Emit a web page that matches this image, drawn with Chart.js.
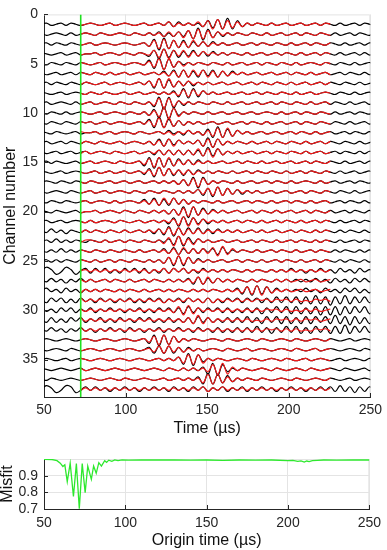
<!DOCTYPE html>
<html>
<head>
<meta charset="utf-8">
<script src="https://cdn.jsdelivr.net/npm/chart.js@4.4.1/dist/chart.umd.min.js"></script>
<style>
  html, body { margin: 0; padding: 0; background: #fff; }
  #wrap { position: relative; width: 387px; height: 550px; overflow: hidden; }
  #traceBox { position: absolute; left: 0; top: 0; width: 387px; height: 440px; }
  #misfitBox { position: absolute; left: 0; top: 440px; width: 387px; height: 110px; }
</style>
</head>
<body>
<div id="wrap">
  <div id="traceBox"><canvas id="traceChart"></canvas></div>
  <div id="misfitBox"><canvas id="misfitChart"></canvas></div>
</div>
<script>
// ---- data ----
const channelTicks = [0, 5, 10, 15, 20, 25, 30, 35];
const timeTicks = [50, 100, 150, 200, 250];
const misfitTicks = [0.7, 0.8, 0.9];

const originTime = 72.5;      // green marker (µs)
const sampleStep = 3;         // µs between samples
const blackStart = 48.5;      // recorded traces: 48.5..252.5 µs
const redStart = 72.5;        // synthetic traces: 72.5..225.5 µs

// recorded (black) trace amplitudes, one row per channel 1..38
const blackTraces = [
  [0,1,-1,0,1,-1,1,0,-1,0, 1,0,-1,0,1,-1,0,1,0,-1, 0,1,-1,0,1,-1,2,-2,2,-1, 1,-1,1,-2,3,-3,4,-4,5,-4, 3,-2,1,-1,1,0,-1,1,-1,0, 1,-1,0,1,-1,0,1,-1,1,0, -1,1,-1,0,1,-1,1,0,-1],
  [1,-1,0,1,0,-1,1,-1,0,1, 0,-1,1,0,-1,0,1,0,-1,1, 0,-1,1,-1,2,-2,1,-2,2,-2, 3,-4,5,-5,4,-3,2,-2,1,-1, 1,0,-1,1,0,-1,1,-1,0,1, -1,0,1,-1,1,0,-1,1,0,-1, 1,-1,0,1,-1,1,0,-1,1],
  [0,1,-1,1,0,-1,1,0,-1,0, 1,-1,0,1,0,-1,0,1,0,-1, 0,1,-2,4,-5,5,-4,3,-3,3, -3,2,-2,2,-2,2,-1,1,-1,0, 1,-1,0,1,-1,1,0,-1,1,0, -1,1,-1,0,1,-1,1,0,-1,1, 0,-1,1,-1,0,1,-1,1,0],
  [1,0,-1,0,1,-1,0,1,-1,0, 0,1,-1,0,1,0,-1,1,0,-1, 1,0,-2,3,-4,4,-3,3,-3,2, -2,3,-2,2,-2,2,-1,1,-1,1, 0,-1,1,-1,0,1,-1,0,1,-1, 1,0,-1,1,-1,0,1,-1,1,0, -1,1,-1,0,1,-1,1,-1,0],
  [0,-1,1,0,-1,1,0,-1,1,0, -1,0,1,-1,0,1,0,-1,0,1, 0,-1,3,-4,5,-5,4,-3,2,-1, 1,-1,1,0,-1,1,0,-1,1,-1, 0,1,-1,0,1,-1,1,0,-1,1, 0,-1,1,-1,0,1,0,-1,1,0, -1,1,0,-1,1,-1,0,1,-1],
  [1,-1,0,1,-1,0,1,-1,1,0, -1,1,0,-1,1,-1,0,1,-1,0, 1,-1,0,1,-1,2,-2,3,-3,3, -3,2,-3,3,-2,3,-3,2,-2,2, -1,1,-1,0,1,-1,0,1,-1,0, 1,-1,1,0,-1,1,-1,0,1,-1, 0,1,-1,1,0,-1,1,-1,0],
  [0,1,-1,1,0,-1,1,0,-1,1, 0,-1,0,1,-1,0,1,0,-1,0, 1,-1,2,-4,4,-4,3,-3,2,-2, 2,-2,1,-1,1,-1,0,1,-1,0, 1,-1,0,1,-1,1,0,-1,1,0, -1,1,-1,0,1,-1,0,1,-1,1, 0,-1,1,0,-1,1,-1,0,1],
  [1,0,-1,0,1,-1,0,1,0,-1, 1,0,-1,1,0,-1,0,1,-1,0, 1,-1,0,1,-1,1,-1,2,-3,4, -4,4,-3,2,-1,1,-1,0,1,-1, 0,1,-1,0,1,-1,1,0,-1,1, 0,-1,1,-1,0,1,-1,0,1,0, -1,1,0,-1,1,-1,0,1,-1],
  [0,1,-1,0,1,0,-1,1,-1,0, 1,-1,0,1,0,-1,1,0,-1,1, 0,-1,1,-3,5,-5,5,-4,2,-2, 1,-1,1,0,-1,1,0,-1,1,-1, 0,1,-1,0,1,-1,0,1,-1,1, 0,-1,1,0,-1,1,-1,0,1,-1, 1,0,-1,1,-1,0,1,-1,0],
  [1,-1,1,0,-1,1,-1,0,1,0, -1,0,1,-1,0,1,0,-1,1,0, -1,1,-2,3,-4,5,-5,4,-2,1, -1,1,0,-1,1,-1,0,1,-1,0, 1,-1,0,1,-1,0,1,0,-1,1, -1,0,1,-1,1,0,-1,1,0,-1, 1,-1,0,1,-1,1,0,-1,1],
  [0,-1,1,0,-1,1,0,-1,1,0, 1,-1,0,1,-1,0,1,0,-1,0, 1,-1,3,-4,5,-4,3,-3,2,-2, 1,-1,1,-1,0,1,-1,0,1,-1, 0,1,-1,1,0,-1,1,-1,0,1, -1,0,1,-1,1,0,-1,1,0,-1, 1,0,-1,1,-1,0,1,-1,0],
  [1,0,-1,1,0,-1,0,1,-1,0, 0,1,-1,0,1,-1,0,1,0,-1, 1,0,-1,0,1,-1,2,-1,1,-2, 2,-1,1,-2,3,-4,5,-4,3,-3, 2,-1,1,-1,0,1,-1,0,1,-1, 0,1,-1,1,0,-1,1,-1,0,1, -1,0,1,-1,1,0,-1,1,-1],
  [0,1,-1,0,1,-1,1,0,-1,1, 0,-1,1,0,-1,0,1,-1,0,1, 0,-1,1,-2,3,-3,3,-2,2,-1, 1,-1,2,-3,4,-4,3,-2,1,-1, 1,0,-1,1,-1,0,1,-1,1,0, -1,1,0,-1,1,-1,0,1,-1,1, 0,-1,1,0,-1,1,-1,0,1],
  [1,-1,0,1,-1,0,1,-1,0,1, -1,0,1,0,-1,1,0,-1,0,1, -1,0,1,-2,2,-2,2,-2,2,-2, 2,-2,2,-3,4,-3,3,-2,1,-1, 1,-1,0,1,-1,0,1,-1,1,0, -1,1,0,-1,1,-1,0,1,-1,0, 1,-1,1,0,-1,1,-1,1,0],
  [0,1,-1,1,0,-1,0,1,-1,0, 1,-1,0,1,0,-1,1,0,-1,0, 1,-3,4,-5,4,-4,3,-3,3,-2, 2,-2,2,-1,1,-1,0,1,-1,0, 1,-1,1,0,-1,1,-1,0,1,-1, 0,1,-1,0,1,-1,1,0,-1,1, 0,-1,1,-1,0,1,-1,1,0],
  [1,0,-1,0,1,-1,0,1,0,-1, 0,1,-1,0,1,-1,0,1,-1,0, 1,-2,3,-4,4,-3,3,-3,2,-3, 2,-2,2,-1,1,-1,1,0,-1,1, -1,0,1,-1,1,0,-1,1,0,-1, 1,-1,0,1,-1,1,0,-1,1,0, -1,1,-1,0,1,-1,0,1,-1],
  [0,1,0,-1,1,0,-1,1,0,-1, 1,0,-1,0,1,-1,0,1,-1,0, 1,-1,0,1,-1,1,-1,1,-2,2, -3,4,-5,4,-2,1,-1,1,0,-1, 1,-1,0,1,-1,0,1,-1,1,0, -1,1,-1,0,1,0,-1,1,-1,0, 1,-1,0,1,-1,1,0,-1,1],
  [1,-1,0,1,0,-1,1,0,-1,0, 1,-1,0,1,-1,0,1,0,-1,1, 0,-1,1,0,-1,1,0,-1,1,-1, 1,-1,2,-3,3,-4,4,-3,3,-2, 2,-2,1,-1,1,-1,0,1,-1,0, 1,-1,0,1,-1,1,0,-1,1,0, -1,1,0,-1,1,-1,0,1,-1],
  [0,-1,1,0,-1,1,0,-1,0,1, -1,0,1,0,-1,1,-1,0,1,0, -1,2,-2,3,-3,2,-3,3,-2,2, -2,1,-1,1,0,-1,1,-1,0,1, -1,0,1,-1,1,0,-1,1,-1,0, 1,-1,1,0,-1,1,-1,0,1,-1, 0,1,-1,1,0,-1,1,-1,0],
  [1,0,-1,1,0,-1,0,1,-1,0, 0,1,-1,0,1,0,-1,1,0,-1, 1,0,-1,1,-1,1,-2,2,-3,4, -5,4,-3,3,-2,2,-1,1,-1,0, 1,-1,0,1,-1,1,0,-1,1,-1, 0,1,-1,0,1,-1,1,0,-1,1, -1,0,1,-1,1,0,-1,1,-1],
  [0,1,-1,0,1,-1,0,1,0,-1, 1,-1,0,1,0,-1,1,0,-1,0, 1,-1,0,1,-1,1,-2,3,-4,4, -3,3,-2,2,-2,1,-1,1,-1,0, 1,-1,1,0,-1,1,-1,0,1,-1, 1,0,-1,1,-1,0,1,-1,1,0, -1,1,-1,0,1,-1,1,0,-1],
  [1,-1,2,-1,1,-2,1,0,-1,1, -1,1,0,-1,1,0,-1,1,-1,0, 1,-1,1,-2,2,-3,4,-4,3,-3, 3,-2,3,-2,2,-2,2,-1,1,-1, 1,-1,0,1,-1,1,-1,0,1,-1, 0,1,-1,1,0,-1,1,-1,1,0, -1,1,-1,1,0,-1,1,-1,1],
  [-1,1,-1,2,-1,1,-1,1,0,-1, 1,0,-1,1,-1,0,1,-1,1,0, -1,1,0,-1,1,-1,2,-3,4,-4, 3,-2,2,-1,1,-1,0,1,-1,0, 1,-1,0,1,-1,1,0,-1,1,-1, 0,1,-1,1,0,-1,1,-1,1,0, -1,1,-1,0,1,-1,1,0,-1],
  [1,-1,1,-1,2,-1,1,-1,1,0, -1,1,0,-1,1,0,-1,1,0,-1, 1,-1,0,1,-1,2,-2,3,-3,2, -2,2,-2,2,-1,2,-3,3,-2,1, -1,1,0,-1,1,-1,0,1,-1,1, 0,-1,1,-1,0,1,-1,1,0,-1, 1,-1,1,0,-1,1,-1,1,-1],
  [0,1,-1,1,-1,1,0,-1,1,0, -1,1,-1,0,1,-1,1,0,-1,1, 0,-1,1,-1,1,-2,3,-4,4,-4, 3,-2,2,-1,1,-1,0,1,-1,0, 1,-1,1,0,-1,1,-1,0,1,-1, 1,0,-1,1,-1,0,1,-1,1,0, -1,1,-1,1,0,-1,1,-1,1],
  [0,3,1,-3,-1,3,1,-3,0,2, -2,2,-1,2,-2,1,-2,2,-1,2, -2,2,-2,1,-2,2,-2,2,-1,2, -2,1,-2,2,-1,1,-1,1,-1,1, 0,-1,1,-1,1,0,-1,1,-1,1, -1,2,-1,1,-2,1,-1,2,-1,1, -2,2,-1,1,-2,2,-1,1,-1],
  [1,-1,2,-1,1,-2,1,-1,2,-1, 1,-1,0,1,-1,1,0,-1,1,-1, 0,1,-1,1,0,-1,1,-1,1,-1, 2,-3,3,-3,2,-2,2,-1,1,-1, 1,0,-1,1,-1,1,0,-1,1,-1, 1,-1,1,-1,1,-1,2,-1,1,-2, 2,-1,1,-2,2,-1,2,-1,1],
  [0,2,-1,1,-2,2,-1,1,-2,1, -1,1,-1,1,0,-1,1,-1,1,0, -1,1,-1,0,1,-1,1,-1,1,0, -1,1,-1,1,-1,1,0,-1,1,-1, 2,-3,3,-4,4,-3,3,-2,2,-1, 1,-1,1,-1,2,-1,1,-2,2,-1, 1,-2,2,-1,2,-2,1,-2,1],
  [1,-2,2,-1,2,-2,1,-2,2,-1, 1,-2,2,-1,1,-2,1,-1,2,-2, 1,-2,2,-1,2,-2,1,-1,2,-2, 2,-1,1,-2,2,-2,1,-2,2,-1, 2,-2,2,-1,2,-2,2,-2,3,-2, 3,-2,3,-3,3,-3,4,-3,3,-4, 3,-3,4,-3,3,-2,3,-2,2],
  [2,-1,1,-2,2,-1,2,-2,1,-1, 2,-2,1,-1,2,-1,1,-2,1,-1, 2,-2,1,-2,2,-1,2,-2,2,-3, 3,-2,2,-2,2,-1,2,-2,2,-2, 1,-2,2,-2,2,-3,2,-2,3,-2, 3,-3,3,-3,2,-3,3,-4,3,-4, 3,-4,3,-3,3,-2,3,-3,2],
  [1,-2,2,-2,1,-2,2,-1,2,-2, 1,-1,2,-2,1,-2,2,-1,1,-2, 2,-1,2,-2,1,-2,2,-2,1,-2, 2,-3,3,-2,2,-2,1,-2,2,-2, 2,-2,3,-2,2,-3,3,-2,3,-3, 3,-3,2,-3,3,-3,3,-2,3,-3, 4,-3,3,-4,3,-3,2,-3,2],
  [1,-1,2,-1,1,-2,1,-1,2,-1, 1,-2,1,-1,2,-1,1,-2,2,-1, 1,-2,1,-1,2,-2,1,-1,2,-1, 1,-2,2,-1,1,-2,2,-2,1,-2, 2,-2,2,-2,3,-2,2,-3,2,-2, 3,-2,3,-3,2,-3,3,-2,3,-3, 3,-3,4,-3,3,-2,3,-2,1],
  [0,1,0,-1,0,1,0,-1,0,1, 0,-1,0,1,0,-1,0,1,0,-1, 0,1,-3,4,-5,4,-4,3,-2,1, -1,1,0,-1,0,1,0,-1,1,0, -1,0,1,0,-1,1,0,-1,0,1, 0,-1,1,0,-1,0,1,0,-1,1, 0,-1,0,1,-1,0,1,0,-1],
  [0,-1,0,1,0,-1,1,0,-1,0, 1,0,-1,0,1,0,-1,0,1,0, -1,0,2,-3,3,-3,3,-3,2,-2, 2,-1,1,-1,0,1,0,-1,1,0, -1,0,1,-1,0,1,0,-1,0,1, 0,-1,1,0,-1,0,1,-1,0,1, 0,-1,0,1,0,-1,1,0,-1],
  [0,1,0,-1,0,1,-1,0,1,0, -1,0,1,0,-1,0,1,0,-1,0, 1,0,-1,0,1,-1,1,-1,2,-4, 5,-5,4,-2,1,-1,1,0,-1,0, 1,0,-1,1,0,-1,0,1,0,-1, 1,0,-1,0,1,-1,0,1,0,-1, 0,1,-1,0,1,0,-1,1,0],
  [1,0,-1,0,1,0,-1,0,1,-1, 0,1,0,-1,0,1,0,-1,0,1, 0,-1,0,1,0,-1,1,0,-1,1, -1,1,-1,2,-4,5,-5,4,-2,1, -1,1,0,-1,0,1,0,-1,1,0, -1,0,1,0,-1,1,0,-1,0,1, 0,-1,1,0,-1,0,1,-1,0],
  [0,-1,1,0,-1,0,1,0,-1,0, 1,0,-1,0,1,0,-1,1,0,-1, 0,1,0,-1,0,1,-1,0,1,-1, 1,-1,2,-4,5,-4,4,-3,3,-2, 1,-1,1,0,-1,1,0,-1,0,1, 0,-1,1,0,-1,0,1,0,-1,1, 0,-1,0,1,-1,0,1,0,-1],
  [0,3,1,-3,-1,3,2,-3,-1,2, -1,2,-1,1,-2,1,-1,2,-1,1, -2,1,-1,2,-1,1,-2,2,-1,1, -2,2,-1,2,-2,1,-1,2,-2,1, -1,2,-2,1,-1,2,-1,1,-2,1, -1,2,-1,1,-2,1,-1,2,-1,2, -2,3,-2,2,-3,2,-2,2,-1]
];

// synthetic (red) trace amplitudes, one row per channel 1..38
const redTraces = [
  [-1,0, 1,0,-1,0,1,-1,0,1,0,-1, 0,1,-1,0,1,-1,2,-2,1,-1, 1,-1,2,-2,3,-4,4,-4,3,-3, 2,-2,1,-1,1,0,-1,1,-1,0, 1,-1,0,1,-1,0,1,-1,1,0],
  [0,1, 0,-1,1,0,-1,0,1,0,-1,1, 0,-1,1,-1,1,-2,2,-2,2,-3, 3,-4,4,-4,3,-3,2,-1,1,-1, 1,0,-1,1,0,-1,1,-1,0,1, -1,0,1,-1,1,0,-1,1,0,-1],
  [-1,0, 1,-1,0,1,0,-1,0,1,0,-1, 0,1,-2,3,-4,4,-4,3,-3,2, -3,3,-2,2,-2,1,-1,1,-1,0, 1,-1,0,1,-1,1,0,-1,1,0, -1,1,-1,0,1,-1,1,0,-1,1],
  [-1,0, 0,1,-1,0,1,0,-1,1,0,-1, 1,0,-1,3,-3,4,-4,3,-2,3, -3,2,-2,2,-1,1,-1,1,-1,1, 0,-1,1,-1,0,1,-1,0,1,-1, 1,0,-1,1,-1,0,1,-1,1,0],
  [1,0, -1,0,1,-1,0,1,0,-1,0,1, 0,-1,2,-3,4,-5,4,-3,2,-2, 1,-1,1,0,-1,1,0,-1,1,-1, 0,1,-1,0,1,-1,1,0,-1,1, 0,-1,1,-1,0,1,0,-1,1,0],
  [1,0, -1,1,0,-1,1,-1,0,1,-1,0, 1,-1,0,1,-1,1,-2,2,-3,3, -3,3,-2,3,-3,2,-3,2,-2,1, -1,1,-1,0,1,-1,0,1,-1,0, 1,-1,1,0,-1,1,-1,0,1,-1],
  [-1,1, 0,-1,0,1,-1,0,1,0,-1,0, 1,-1,2,-3,4,-4,4,-3,2,-2, 2,-1,1,-1,1,-1,0,1,-1,0, 1,-1,0,1,-1,1,0,-1,1,0, -1,1,-1,0,1,-1,0,1,-1,1],
  [0,-1, 1,0,-1,1,0,-1,0,1,-1,0, 1,-1,0,1,-1,1,-1,1,-2,3, -3,3,-2,2,-1,1,-1,0,1,-1, 0,1,-1,0,1,-1,1,0,-1,1, 0,-1,1,-1,0,1,-1,0,1,0],
  [-1,0, 1,-1,0,1,0,-1,1,0,-1,1, 0,-1,1,-2,4,-4,4,-3,2,-1, 1,-1,1,0,-1,1,0,-1,1,-1, 0,1,-1,0,1,-1,0,1,-1,1, 0,-1,1,0,-1,1,-1,0,1,-1],
  [1,0, -1,0,1,-1,0,1,0,-1,1,0, -1,1,-2,2,-3,4,-4,4,-3,1, -1,1,0,-1,1,-1,0,1,-1,0, 1,-1,0,1,-1,0,1,0,-1,1, -1,0,1,-1,1,0,-1,1,0,-1],
  [1,0, 1,-1,0,1,-1,0,1,0,-1,0, 1,-1,2,-3,4,-4,4,-3,2,-2, 1,-1,1,-1,0,1,-1,0,1,-1, 0,1,-1,1,0,-1,1,-1,0,1, -1,0,1,-1,1,0,-1,1,0,-1],
  [1,0, 0,1,-1,0,1,-1,0,1,0,-1, 1,0,-1,0,1,-1,1,-2,1,-1, 2,-1,1,-2,2,-3,4,-4,4,-3, 2,-1,1,-1,0,1,-1,0,1,-1, 0,1,-1,1,0,-1,1,-1,0,1],
  [-1,1, 0,-1,1,0,-1,0,1,-1,0,1, 0,-1,1,-2,2,-3,3,-3,2,-1, 1,-1,2,-3,3,-4,3,-2,1,-1, 1,0,-1,1,-1,0,1,-1,1,0, -1,1,0,-1,1,-1,0,1,-1,1],
  [-1,1, -1,0,1,0,-1,1,0,-1,0,1, -1,0,1,-1,2,-2,2,-2,2,-2, 2,-2,3,-3,3,-4,3,-2,1,-1, 1,-1,0,1,-1,0,1,-1,1,0, -1,1,0,-1,1,-1,0,1,-1,0],
  [-1,0, 1,-1,0,1,0,-1,1,0,-1,0, 1,-2,3,-4,4,-4,4,-3,2,-2, 2,-2,1,-1,1,-1,0,1,-1,0, 1,-1,1,0,-1,1,-1,0,1,-1, 0,1,-1,0,1,-1,1,0,-1,1],
  [0,-1, 0,1,-1,0,1,-1,0,1,-1,0, 1,-1,2,-3,4,-3,3,-2,2,-2, 2,-2,1,-1,1,-1,1,0,-1,1, -1,0,1,-1,1,0,-1,1,0,-1, 1,-1,0,1,-1,1,0,-1,1,0],
  [0,-1, 1,0,-1,0,1,-1,0,1,-1,0, 1,-1,0,1,-1,1,-1,1,-2,2, -3,3,-4,3,-2,1,-1,1,0,-1, 1,-1,0,1,-1,0,1,-1,1,0, -1,1,-1,0,1,0,-1,1,-1,0],
  [-1,0, 1,-1,0,1,-1,0,1,0,-1,1, 0,-1,1,0,-1,1,0,-1,1,-1, 1,-1,2,-2,3,-3,4,-3,3,-2, 2,-1,1,-1,1,-1,0,1,-1,0, 1,-1,0,1,-1,1,0,-1,1,0],
  [0,1, -1,0,1,0,-1,1,-1,0,1,0, -1,1,-2,2,-3,3,-2,3,-2,2, -2,1,-1,1,0,-1,1,-1,0,1, -1,0,1,-1,1,0,-1,1,-1,0, 1,-1,1,0,-1,1,-1,0,1,-1],
  [-1,0, 0,1,-1,0,1,0,-1,1,0,-1, 1,0,-1,1,-1,1,-2,2,-3,3, -4,4,-3,2,-2,1,-1,1,-1,0, 1,-1,0,1,-1,1,0,-1,1,-1, 0,1,-1,0,1,-1,1,0,-1,1],
  [0,-1, 1,-1,0,1,0,-1,1,0,-1,0, 1,-1,0,1,-1,1,-1,2,-3,4, -4,3,-3,2,-1,1,-1,1,-1,0, 1,-1,1,0,-1,1,-1,0,1,-1, 1,0,-1,1,-1,0,1,-1,1,0],
  [-1,1, -1,1,0,-1,1,0,-1,1,-1,0, 1,-1,1,-1,2,-2,3,-3,3,-3, 2,-2,2,-2,1,-1,1,-1,1,-1, 1,-1,0,1,-1,1,-1,0,1,-1, 0,1,-1,1,0,-1,1,-1,1,0],
  [-1,1, 1,0,-1,1,-1,0,1,-1,1,0, -1,1,0,-1,1,-2,3,-4,4,-3, 2,-3,2,-1,1,-1,0,1,-1,0, 1,-1,0,1,-1,1,0,-1,1,-1, 0,1,-1,1,0,-1,1,-1,1,0],
  [1,0, -1,1,0,-1,1,0,-1,1,0,-1, 1,-1,0,1,-1,1,-2,2,-3,3, -2,2,-2,2,-2,3,-4,4,-3,2, -1,1,0,-1,1,-1,0,1,-1,1, 0,-1,1,-1,0,1,-1,1,0,-1],
  [1,0, -1,1,-1,0,1,-1,1,0,-1,1, 0,-1,1,-1,1,-2,3,-3,4,-3, 3,-2,1,-1,1,-1,0,1,-1,0, 1,-1,1,0,-1,1,-1,0,1,-1, 1,0,-1,1,-1,0,1,-1,1,0],
  [0,1, -1,1,-1,1,-1,1,-1,1,-1,1, -1,1,-2,1,-1,2,-2,2,-1,2, -2,1,-1,1,-1,1,-1,1,-1,1, 0,-1,1,-1,1,0,-1,1,-1,1, -1,1,-1,1,-1,1,-1,1,-1,1],
  [1,-1, 1,-1,0,1,-1,1,0,-1,1,-1, 0,1,-1,1,0,-1,1,-1,1,-1, 1,-2,3,-3,3,-2,2,-1,1,-1, 1,0,-1,1,-1,1,0,-1,1,-1, 1,-1,0,1,-1,0,1,-1,0,1],
  [-2,1, -1,1,-1,1,0,-1,1,-1,1,0, -1,1,-1,0,1,-1,1,-1,1,0, -1,1,-1,1,-1,1,0,-1,1,-1, 1,-2,3,-3,4,-4,3,-2,1,-1, 1,-1,0,1,-1,0,1,-1,0,1],
  [2,-1, 1,-1,1,-1,1,-1,1,-1,1,-1, 1,-1,1,-1,1,-2,1,-1,1,-1, 2,-1,1,-2,2,-2,1,-1,1,-1, 1,-1,1,-1,1,0,1,-1,1,0, 1,-1,1,-1,0,-1,1,0,1,-1],
  [1,-1, 1,-1,1,-1,1,-1,1,-1,1,-1, 1,-1,1,-1,1,-1,1,-2,3,-4, 4,-3,2,-1,1,-1,1,-1,1,-1, 1,-1,1,-1,1,-1,1,0,1,-1, 1,-1,0,-1,1,-1,1,-1,0,1],
  [2,-1, 1,-1,1,-1,1,-1,1,-1,1,-1, 1,-1,1,-1,1,-1,1,-1,1,-2, 2,-3,4,-3,2,-2,1,-1,1,-1, 1,-1,1,-1,0,-1,1,-1,1,0, 1,-1,1,-1,1,0,1,-1,0,1],
  [2,-1, 1,-1,1,-1,1,-1,1,-1,1,-1, 1,-1,1,-1,1,-1,1,-1,1,-1, 1,-1,1,-1,1,-1,1,-1,1,-1, 1,-1,1,-1,1,-1,1,0,1,-1, 1,-1,1,-1,0,-1,1,0,1,-1],
  [0,1, 0,-1,0,1,0,-1,0,1,0,-1, 0,1,-2,3,-4,4,-4,3,-2,1, -1,1,0,-1,0,1,0,-1,1,0, -1,0,1,0,-1,1,0,-1,0,1, 0,-1,1,0,-1,0,1,0,-1,1],
  [-1,0, 1,0,-1,0,1,0,-1,0,1,0, -1,0,1,-2,3,-3,3,-2,2,-2, 1,-1,1,-1,0,1,0,-1,1,0, -1,0,1,-1,0,1,0,-1,0,1, 0,-1,1,0,-1,0,1,-1,0,1],
  [1,0, -1,0,1,0,-1,0,1,0,-1,0, 1,0,-1,0,1,-1,1,-1,2,-3, 4,-4,4,-3,1,-1,1,0,-1,0, 1,0,-1,1,0,-1,0,1,0,-1, 1,0,-1,0,1,-1,0,1,0,-1],
  [1,-1, 0,1,0,-1,0,1,0,-1,0,1, 0,-1,0,1,0,-1,1,0,-1,1, -1,1,-1,1,-2,4,-4,5,-4,2, -1,1,0,-1,0,1,0,-1,1,0, -1,0,1,0,-1,1,0,-1,0,1],
  [-1,0, 1,0,-1,0,1,0,-1,1,0,-1, 0,1,0,-1,0,1,-1,0,1,-1, 1,-1,1,-3,4,-4,4,-3,2,-2, 1,-1,1,0,-1,1,0,-1,0,1, 0,-1,1,0,-1,0,1,0,-1,1],
  [-1,1, -1,1,-1,1,-1,1,-1,1,-1,1, -1,1,-1,1,-1,1,-1,1,-1,1, -1,1,-1,2,-2,1,-1,2,-1,1, -1,1,-1,1,-1,1,-1,1,-1,1, -1,1,-1,1,-1,1,-1,1,-1,1]
];

// misfit versus trial origin time
const misfitTimes = [50, 55, 58, 60, 61.6, 62.8, 64.3, 66.1, 68.1, 69.9, 71.7, 73.5, 75.3, 76.9, 79.1, 80.5, 82.1, 83.7, 85.3, 87.3, 88.5, 89.8, 91.7, 93.5, 95.5, 98, 102, 110, 120, 130, 140, 150, 160, 170, 180, 190, 200, 203, 206, 208, 210, 211.5, 213, 215, 218, 222, 230, 240, 250];
const misfitValues = [0.998, 0.997, 0.99, 0.975, 0.955, 0.965, 0.864, 0.975, 0.775, 0.972, 0.702, 0.972, 0.798, 0.958, 0.878, 0.958, 0.914, 0.978, 0.957, 0.99, 0.98, 0.993, 0.986, 0.995, 0.99, 0.995, 0.993, 0.995, 0.994, 0.995, 0.993, 0.994, 0.992, 0.994, 0.993, 0.994, 0.99, 0.992, 0.986, 0.989, 0.982, 0.988, 0.984, 0.99, 0.992, 0.994, 0.993, 0.994, 0.994];

// ---- styling ----
const FONT = '"Liberation Sans", Arial, Helvetica, sans-serif';
const AXIS = '#262626';
const GRID = '#e4e4e4';
const ampScale = 0.12;        // channel units per amplitude step
const channelMax = 38.8;

Chart.defaults.font.family = FONT;
Chart.defaults.color = AXIS;

// MATLAB style: inward tick marks + light box edges
const matlabFrame = {
  id: 'matlabFrame',
  beforeDatasetsDraw(chart) {
    const { ctx, chartArea: a } = chart;
    ctx.save();
    ctx.strokeStyle = GRID;
    ctx.lineWidth = 1;
    ctx.beginPath();
    ctx.moveTo(a.left, a.top + 0.5);
    ctx.lineTo(a.right - 0.5, a.top + 0.5);
    ctx.lineTo(a.right - 0.5, a.bottom);
    ctx.stroke();
    ctx.restore();
  },
  afterDatasetsDraw(chart) {
    const { ctx, chartArea: a, scales: { x, y } } = chart;
    ctx.save();
    ctx.strokeStyle = AXIS;
    ctx.lineWidth = 1;
    ctx.beginPath();
    x.ticks.forEach((t) => {
      const px = Math.round(x.getPixelForValue(t.value)) + 0.5;
      ctx.moveTo(px, a.bottom);
      ctx.lineTo(px, a.bottom - 4);
    });
    y.ticks.forEach((t) => {
      const py = Math.round(y.getPixelForValue(t.value)) + 0.5;
      ctx.moveTo(a.left, py);
      ctx.lineTo(a.left + 4, py);
    });
    ctx.stroke();
    ctx.restore();
  },
};

// ---- trace chart ----
const traceSets = [];
blackTraces.forEach((amps, k) => {
  traceSets.push({
    data: amps.map((a, i) => ({ x: blackStart + i * sampleStep, y: k + 1 - a * ampScale })),
    borderColor: '#000000',
    borderWidth: 1.2,
    order: 3,
  });
});
redTraces.forEach((amps, k) => {
  traceSets.push({
    data: amps.map((a, i) => ({ x: redStart + i * sampleStep, y: k + 1 - a * ampScale })),
    borderColor: '#f01818',
    borderWidth: 1.2,
    order: 2,
  });
});
traceSets.push({
  data: [{ x: originTime, y: 0 }, { x: originTime, y: channelMax }],
  borderColor: '#1fe01f',
  borderWidth: 1.6,
  tension: 0,
  order: 1,
});

new Chart(document.getElementById('traceChart'), {
  type: 'line',
  data: { datasets: traceSets },
  options: {
    responsive: true,
    maintainAspectRatio: false,
    animation: false,
    events: [],
    layout: { padding: { top: 5, right: 11, left: 0, bottom: 0 } },
    elements: { point: { radius: 0 }, line: { tension: 0.4 } },
    plugins: { legend: { display: false }, tooltip: { enabled: false } },
    scales: {
      x: {
        type: 'linear',
        min: 50,
        max: 250,
        afterBuildTicks: (s) => { s.ticks = timeTicks.map((v) => ({ value: v })); },
        afterFit: (s) => { s.height = 43; },
        grid: { color: GRID, drawTicks: false },
        border: { color: AXIS, width: 1 },
        ticks: { color: AXIS, font: { size: 14 }, padding: 5, maxRotation: 0 },
        title: { display: true, text: 'Time (µs)', color: '#111', font: { size: 16 }, padding: { top: 0, bottom: 2 } },
      },
      y: {
        type: 'linear',
        reverse: true,
        min: 0,
        max: channelMax,
        afterBuildTicks: (s) => { s.ticks = channelTicks.map((v) => ({ value: v })); },
        afterFit: (s) => { s.width = 44; },
        grid: { drawOnChartArea: false, drawTicks: false },
        border: { color: AXIS, width: 1 },
        ticks: { color: AXIS, font: { size: 14 }, padding: 6 },
        title: { display: true, text: 'Channel number', color: '#111', font: { size: 16 }, padding: { top: 1, bottom: 0 } },
      },
    },
  },
  plugins: [matlabFrame],
});

// ---- misfit chart ----
new Chart(document.getElementById('misfitChart'), {
  type: 'line',
  data: {
    datasets: [{
      data: misfitTimes.map((t, i) => ({ x: t, y: misfitValues[i] })),
      borderColor: '#2ee82e',
      borderWidth: 1.3,
      tension: 0,
    }],
  },
  options: {
    responsive: true,
    maintainAspectRatio: false,
    animation: false,
    events: [],
    layout: { padding: { top: 19, right: 11, left: 0, bottom: 0 } },
    elements: { point: { radius: 0 } },
    plugins: { legend: { display: false }, tooltip: { enabled: false } },
    scales: {
      x: {
        type: 'linear',
        min: 50,
        max: 250,
        afterBuildTicks: (s) => { s.ticks = timeTicks.map((v) => ({ value: v })); },
        afterFit: (s) => { s.height = 41; },
        grid: { color: GRID, drawTicks: false },
        border: { color: AXIS, width: 1 },
        ticks: { color: AXIS, font: { size: 14 }, padding: 6, maxRotation: 0 },
        title: { display: true, text: 'Origin time (µs)', color: '#111', font: { size: 16 }, padding: { top: 0, bottom: 0 } },
      },
      y: {
        type: 'linear',
        min: 0.7,
        max: 1.0,
        afterBuildTicks: (s) => { s.ticks = misfitTicks.map((v) => ({ value: v })); },
        afterFit: (s) => { s.width = 44; },
        grid: { color: GRID, drawTicks: false },
        border: { color: AXIS, width: 1 },
        ticks: { color: AXIS, font: { size: 14 }, padding: 6, callback: (v) => v.toFixed(1) },
        title: { display: true, text: 'Misfit', color: '#111', font: { size: 16 }, padding: { top: -2, bottom: 0 } },
      },
    },
  },
  plugins: [matlabFrame],
});
</script>
</body>
</html>
